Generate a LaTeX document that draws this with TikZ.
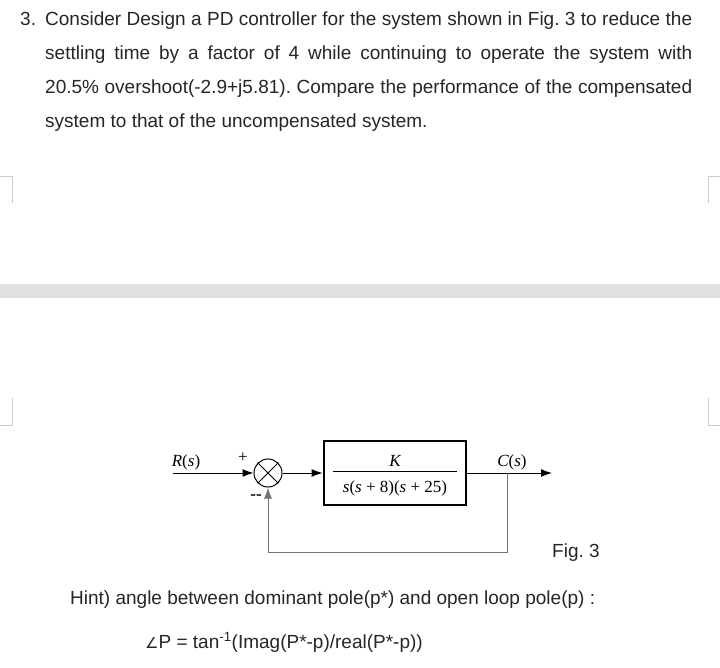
\documentclass[tikz,border=0pt]{standalone}
\usepackage{fontspec}
\setmainfont{Liberation Sans}
\newfontfamily\dejavu{DejaVu Sans}
\newfontfamily\tms{Liberation Serif}
\usetikzlibrary{arrows.meta}
\frenchspacing
\begin{document}
\begin{tikzpicture}[x=1pt,y=-1pt,
  txt/.style={anchor=base west,inner sep=0pt,font=\fontsize{19}{22}\selectfont,text=black!85},
  serif/.style={font=\fontsize{17}{19}\selectfont\tms},
  sig/.style={line width=1pt,-{Latex[length=11pt,width=8pt]}},
  corner/.style={draw=black!20,line width=0.8pt}]
\useasboundingbox[fill=white] (0,0) rectangle (720,668);
% question text
\node[txt] (n3) at (20,26) {3.};
\node[txt] (l1) at (45,26) {\makebox[647pt][s]{Consider Design a PD controller for the system shown in Fig. 3 to reduce the}};
\node[txt] (l2) at (45,60) {\makebox[647pt][s]{settling time by a factor of 4 while continuing to operate the system with}};
\node[txt] (l3) at (45,94) {\makebox[647pt][s]{20.5\% overshoot(-2.9+j5.81). Compare the performance of the compensated}};
\node[txt] (l4) at (45,128) {system to that of the uncompensated system.};
% page separators
\fill[black!12] (0,284) rectangle (720,298);
\draw[corner] (0,176) -- (12,176) -- (12,203);
\draw[corner] (720,176) -- (708,176) -- (708,203);
\draw[corner] (0,425) -- (12,425) -- (12,398);
\draw[corner] (720,425) -- (708,425) -- (708,398);
% block diagram
\coordinate (in) at (173,473);
\node[draw,circle,minimum size=28pt,inner sep=0pt,line width=1pt] (sum) at (268,473) {};
\draw[line width=1pt] (sum.north west) -- (sum.south east) (sum.north east) -- (sum.south west);
\node[draw,line width=2.8pt,minimum width=142pt,minimum height=64pt,inner sep=0pt] (G) at (395,473) {};
\node[serif,inner sep=0pt] (num) at (395,461) {\itshape K};
\node[serif,inner sep=0pt] (den) at (395,488) {\itshape s\upshape(\itshape s \upshape+ 8)(\itshape s \upshape+ 25)};
\draw[line width=0.6pt] (333,471) -- (457,471);
\coordinate (br) at (507,473);
\coordinate (out) at (552,473);
\coordinate (fb1) at (507,552);
\coordinate (fb2) at (268,552);
\draw[sig] (in) -- (sum.west);
\draw[sig] (sum.east) -- (G.west);
\draw[sig] (G.east) -- (out);
\draw[sig,draw=black!55] (br) -- (fb1) -- (fb2) -- (sum.south);
\node[serif,inner sep=0pt] (R) at (186,462) {\itshape R\upshape(\itshape s\upshape)};
\node[serif,inner sep=0pt] (C) at (512,462) {\itshape C\upshape(\itshape s\upshape)};
\node[serif,inner sep=0pt] (plus) at (243,458) {+};
\node[serif,inner sep=0pt] (minus) at (256,497) {\bfseries --};
% captions
\node[txt] (fig) at (552,557) {Fig. 3};
\node[txt] (hint) at (70,604) {Hint) angle between dominant pole(p*) and open loop pole(p) :};
\node[txt] (eq) at (145,648) {{\dejavu\fontsize{15}{17}\selectfont ∠}P = tan\textsuperscript{-1}(Imag(P*-p)/real(P*-p))};
\end{tikzpicture}
\end{document}
